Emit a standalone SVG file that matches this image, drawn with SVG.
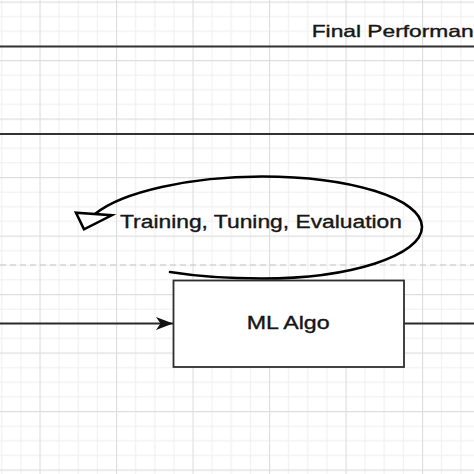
<svg xmlns="http://www.w3.org/2000/svg" width="474" height="474" viewBox="0 0 474 474">
  <style>
    .lane { stroke: #333; stroke-width: 2.2; fill: none; }
    .dash { stroke: #c4c4c4; stroke-width: 1.2; stroke-dasharray: 6 4; fill: none; }
    .edge { stroke: #2a2a2a; stroke-width: 1.8; fill: none; }
    .loop { stroke: #000; stroke-width: 2.6; fill: none; stroke-linecap: round; }
    .box { fill: #fff; stroke: #2e2e2e; stroke-width: 1.8; }
    .lbl { font-family: "Liberation Sans", Arial, Helvetica, sans-serif; fill: #161616; stroke: #161616; stroke-width: 0.35; }
  </style>
  <defs>
    <pattern id="grid" patternUnits="userSpaceOnUse" x="39.5" y="1.5" width="76.5" height="58.5">
      <g stroke="#eeeeee" stroke-width="1">
        <line x1="19.6" y1="0" x2="19.6" y2="58.5"/>
        <line x1="38.75" y1="0" x2="38.75" y2="58.5"/>
        <line x1="57.9" y1="0" x2="57.9" y2="58.5"/>
        <line x1="0" y1="15.1" x2="76.5" y2="15.1"/>
        <line x1="0" y1="29.75" x2="76.5" y2="29.75"/>
        <line x1="0" y1="44.4" x2="76.5" y2="44.4"/>
      </g>
      <g stroke="#dedede" stroke-width="1.3">
        <line x1="0.5" y1="0" x2="0.5" y2="58.5"/>
        <line x1="0" y1="0.5" x2="76.5" y2="0.5"/>
      </g>
    </pattern>
    <marker id="arrow" markerUnits="userSpaceOnUse" markerWidth="18" markerHeight="14" refX="17" refY="6.5" orient="auto">
      <path d="M0,0 L17,6.5 L0,13 L4.5,6.5 Z" fill="#111"/>
    </marker>
  </defs>

  <rect id="background" x="0" y="0" width="474" height="474" fill="#fff"/>
  <rect id="grid-layer" x="0" y="0" width="474" height="474" fill="url(#grid)"/>

  <g id="lanes">
    <line class="lane" x1="0" y1="46.5" x2="474" y2="46.5"/>
    <line class="lane" x1="0" y1="134" x2="474" y2="134"/>
    <line class="dash" x1="0" y1="265" x2="474" y2="265"/>
  </g>

  <g id="lane-title">
    <text class="lbl" x="311.7" y="36.9" font-size="16.5" textLength="162" lengthAdjust="spacingAndGlyphs">Final Performan</text>
  </g>

  <g id="connectors">
    <line class="edge" x1="0" y1="323.5" x2="173" y2="323.5" marker-end="url(#arrow)"/>
    <line class="edge" x1="404" y1="323.5" x2="474" y2="323.5"/>
    <path id="loop" class="loop" d="M170,272 C198,276.5 230,278.5 262,278.5 C350.4,278.5 422,255.4 422,227 C422,198.6 350.4,176.5 262,176.5 C190,176.5 122,192 95,214"/>
    <polygon points="76,212.7 84,229.3 111.7,215.3" fill="#fff" stroke="#000" stroke-width="2.6" stroke-linejoin="miter"/>
    <text class="lbl" x="120" y="228.3" font-size="18" textLength="282" lengthAdjust="spacingAndGlyphs">Training, Tuning, Evaluation</text>
  </g>

  <g id="ml-algo">
    <rect class="box" x="173.5" y="280.5" width="230.5" height="86.5"/>
    <text class="lbl" x="246.7" y="329.3" font-size="17.7" textLength="83" lengthAdjust="spacingAndGlyphs">ML Algo</text>
  </g>
</svg>
